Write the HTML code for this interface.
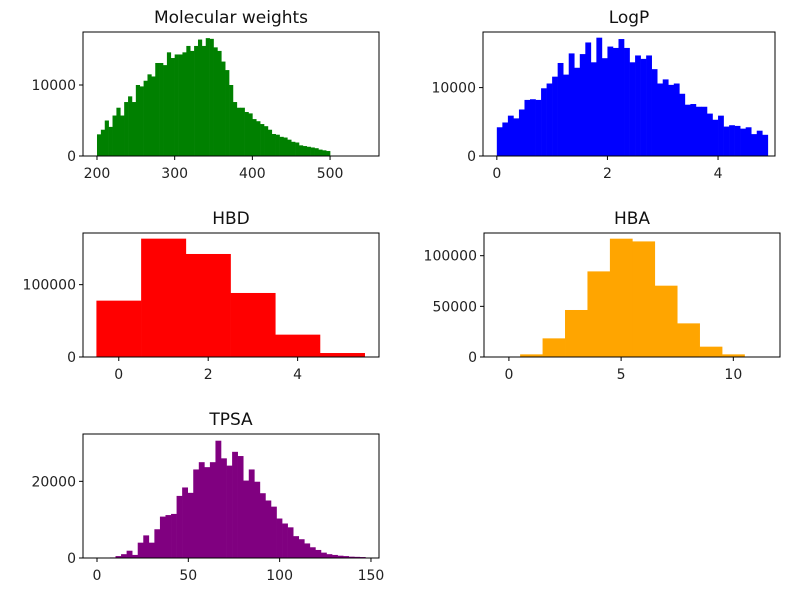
<!DOCTYPE html>
<html><head><meta charset="utf-8"><style>
body{margin:0;background:#fff;}
svg{display:block;font-family:"DejaVu Sans","Liberation Sans",sans-serif;}
</style></head><body>
<svg id="chart" width="785" height="591" viewBox="0 0 785 591"></svg>
<script>
const mwStart = 200, mwWidth = 5;
const mwCounts = [3050,3700,5000,4100,5700,6800,5700,7600,8400,7600,10000,9800,10600,11500,11200,13100,13100,12800,14600,13800,14300,14300,14600,15500,14800,15500,16400,15500,16600,16500,15300,14800,13300,12100,10000,7600,6800,6800,6200,6000,5200,4900,4500,4200,3700,3100,3000,2700,2600,2300,2000,1900,1500,1400,1300,1200,1100,900,800,700];
const mwXTicks = [200,300,400,500];
const mwYTicks = [0,10000];

const logpStart = 0, logpWidth = 0.1;
const logpCounts = [4200,4900,5900,5500,6800,8200,8300,8200,9900,10600,11600,13600,11900,15000,12900,14900,16600,13700,17300,14300,16000,15800,17100,15800,13700,14700,14200,14700,12700,10600,11200,10400,10600,9100,7500,7600,7200,7200,6200,5300,5900,4300,4500,4400,4000,4200,3200,3700,3100];
const logpXTicks = [0,2,4];
const logpYTicks = [0,10000];

const hbdStart = -0.5, hbdWidth = 1;
const hbdCounts = [77900,163600,142400,88500,30900,5500];
const hbdXTicks = [0,2,4];
const hbdYTicks = [0,100000];

const hbaStart = 0.5, hbaWidth = 1;
const hbaCounts = [2600,18400,46400,84500,116800,114100,70400,33200,10200,2600];
const hbaXTicks = [0,5,10];
const hbaYTicks = [0,50000,100000];

const tpsaStart = 7.1, tpsaWidth = 3.04;
const tpsaCounts = [150,500,1000,1900,800,4000,5900,4000,7500,10800,11200,11500,16200,18400,17000,23100,25000,23700,25000,30600,26000,24100,27700,26600,20200,23100,19900,16900,15000,13400,10300,9000,8000,5700,4900,3800,2800,2100,1400,1000,800,600,500,350,300,250];
const tpsaXTicks = [0,50,100,150];
const tpsaYTicks = [0,20000];

const svg = document.getElementById('chart');
const NS = 'http://www.w3.org/2000/svg';
function mk(tag, attrs, parent){const e=document.createElementNS(NS,tag);for(const k in attrs)e.setAttribute(k,attrs[k]);parent.appendChild(e);return e;}

function panel(name, title, box, xdom, ydom, start, width, counts, xticks, yticks, color){
  const g = mk('g', {}, svg);
  
  
  const [L,T,R,B] = box;
  const xs = v => L + (v - xdom[0]) / (xdom[1] - xdom[0]) * (R - L);
  const ys = v => B - (v - ydom[0]) / (ydom[1] - ydom[0]) * (B - T);
  counts.forEach((c, i) => {
    const x0 = xs(start + i * width), x1 = xs(start + (i + 1) * width);
    const r = mk('rect', {x: x0, y: ys(c), width: x1 - x0 + 0.3, height: B - ys(c), fill: color}, g);
    
    
  });
  const fr = mk('rect', {x: L, y: T, width: R - L, height: B - T, fill: 'none', stroke: '#000', 'stroke-width': 1}, g);
  
  
  xticks.forEach(t => {
    const x = xs(t);
    mk('line', {x1: x, x2: x, y1: B, y2: B + 4, stroke: '#000'}, g);
    const tx = mk('text', {x: x, y: B + 22, 'text-anchor': 'middle', 'font-size': 14, fill: '#222'}, g);
    tx.textContent = t;
    
    
  });
  yticks.forEach(t => {
    const y = ys(t);
    mk('line', {x1: L - 4, x2: L, y1: y, y2: y, stroke: '#000'}, g);
    const tx = mk('text', {x: L - 7, y: y + 5, 'text-anchor': 'end', 'font-size': 14, fill: '#222'}, g);
    tx.textContent = t;
    
    
  });
  const tt = mk('text', {x: (L + R) / 2, y: T - 9, 'text-anchor': 'middle', 'font-size': 17, fill: '#111'}, g);
  tt.textContent = title;
  
  
}

panel('molecular-weights', 'Molecular weights', [83,32,379,156], [182,563], [0,17464], mwStart, mwWidth, mwCounts, mwXTicks, mwYTicks, '#008000');
panel('logp', 'LogP', [483,32,775,156], [-0.25,5.03], [0,18130], logpStart, logpWidth, logpCounts, logpXTicks, logpYTicks, '#0000ff');
panel('hbd', 'HBD', [83,233,379,357], [-0.8,5.82], [0,171400], hbdStart, hbdWidth, hbdCounts, hbdXTicks, hbdYTicks, '#ff0000');
panel('hba', 'HBA', [484,233,780,357], [-1.11,12.08], [0,122400], hbaStart, hbaWidth, hbaCounts, hbaXTicks, hbaYTicks, '#ffa500');
panel('tpsa', 'TPSA', [83,434,379,558], [-7.66,154.4], [0,32350], tpsaStart, tpsaWidth, tpsaCounts, tpsaXTicks, tpsaYTicks, '#800080');
</script>
</body></html>
